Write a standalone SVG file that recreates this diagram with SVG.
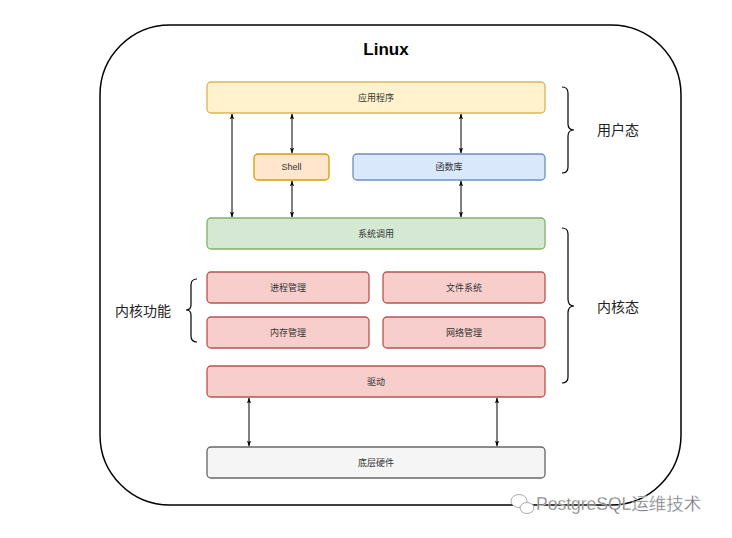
<svg xmlns="http://www.w3.org/2000/svg" width="732" height="538" viewBox="0 0 732 538">
<defs>
<style>
.n{stroke-width:1.3}
.t{font-family:"Liberation Sans","Noto Sans CJK SC",sans-serif;font-size:9px;fill:#333;text-anchor:middle;dominant-baseline:central}
.s{font-family:"Liberation Sans","Noto Sans CJK SC",sans-serif;font-size:14px;fill:#222;dominant-baseline:central}
.c line{stroke:#000;stroke-width:1;marker-start:url(#a);marker-end:url(#a)}
.br{fill:none;stroke:#000;stroke-width:1.2}
</style>
<marker id="a" viewBox="0 0 10 10" refX="9" refY="5" markerWidth="6" markerHeight="6" orient="auto-start-reverse" markerUnits="userSpaceOnUse"><path d="M0,1.5 L10,5 L0,8.5 L2.5,5 Z" fill="#000"/></marker>
</defs>
<rect width="732" height="538" fill="#fff"/>
<g id="linux">
<rect x="100" y="25" width="581" height="480" rx="70" ry="70" fill="#fff" stroke="#000" stroke-width="1.5"/>
<text x="386" y="49" font-family="Liberation Sans,sans-serif" font-size="17" font-weight="bold" text-anchor="middle" dominant-baseline="central" fill="#000">Linux</text>
</g>
<g id="app"><rect class="n" x="207" y="82" width="338" height="31" rx="4" fill="#fff2cc" stroke="#d6b656"/><text class="t" x="376" y="97.5">应用程序</text></g>
<g id="shell"><rect class="n" x="254" y="154" width="75" height="26" rx="4" fill="#ffe6cc" stroke="#d79b00"/><text class="t" x="291.5" y="167">Shell</text></g>
<g id="lib"><rect class="n" x="353" y="154" width="192" height="26" rx="4" fill="#dae8fc" stroke="#6c8ebf"/><text class="t" x="449" y="167">函数库</text></g>
<g id="syscall"><rect class="n" x="207" y="218" width="338" height="31" rx="4" fill="#d5e8d4" stroke="#82b366"/><text class="t" x="376" y="233.5">系统调用</text></g>
<g id="proc"><rect class="n" x="207" y="272" width="162" height="31" rx="4" fill="#f8cecc" stroke="#b85450"/><text class="t" x="288" y="287.5">进程管理</text></g>
<g id="fs"><rect class="n" x="383" y="272" width="162" height="31" rx="4" fill="#f8cecc" stroke="#b85450"/><text class="t" x="464" y="287.5">文件系统</text></g>
<g id="mem"><rect class="n" x="207" y="317" width="162" height="31" rx="4" fill="#f8cecc" stroke="#b85450"/><text class="t" x="288" y="332.5">内存管理</text></g>
<g id="net"><rect class="n" x="383" y="317" width="162" height="31" rx="4" fill="#f8cecc" stroke="#b85450"/><text class="t" x="464" y="332.5">网络管理</text></g>
<g id="driver"><rect class="n" x="207" y="366" width="338" height="31" rx="4" fill="#f8cecc" stroke="#b85450"/><text class="t" x="376" y="381.5">驱动</text></g>
<g id="hw"><rect class="n" x="207" y="447" width="338" height="31" rx="4" fill="#f5f5f5" stroke="#666666"/><text class="t" x="376" y="462.5">底层硬件</text></g>
<g id="connectors" class="c">
<line x1="232" y1="114" x2="232" y2="217"/>
<line x1="292" y1="114" x2="292" y2="153"/>
<line x1="292" y1="181" x2="292" y2="217"/>
<line x1="461" y1="114" x2="461" y2="153"/>
<line x1="461" y1="181" x2="461" y2="217"/>
<line x1="249" y1="398" x2="249" y2="446"/>
<line x1="497" y1="398" x2="497" y2="446"/>
</g>
<g id="user-brace">
<path class="br" d="M562,87 Q568,87 568,93 L568,124 Q568,130 574,130 Q568,130 568,136 L568,167 Q568,173 562,173"/>
<text class="s" x="597" y="130">用户态</text>
</g>
<g id="kernel-brace">
<path class="br" d="M562,228 Q568,228 568,234 L568,299 Q568,306 574,306 Q568,306 568,313 L568,377 Q568,383 562,383"/>
<text class="s" x="597" y="307">内核态</text>
</g>
<g id="func-brace">
<path class="br" d="M197,279 Q191,279 191,285 L191,305 Q191,310 186,310 Q191,310 191,315 L191,336 Q191,342 197,342"/>
<text class="s" x="115" y="311">内核功能</text>
</g>
<g id="watermark">
<ellipse cx="519" cy="501" rx="8" ry="6.5" fill="#fff" stroke="#aaa" stroke-width="1"/>
<ellipse cx="527" cy="508" rx="7" ry="5.5" fill="#fff" stroke="#aaa" stroke-width="1"/>
<text x="536" y="504" font-family="Liberation Sans,Noto Sans CJK SC,sans-serif" font-size="17.5" fill="#777" stroke="#fff" stroke-width="0.3" dominant-baseline="central">PostgreSQL运维技术</text>
</g>
</svg>
